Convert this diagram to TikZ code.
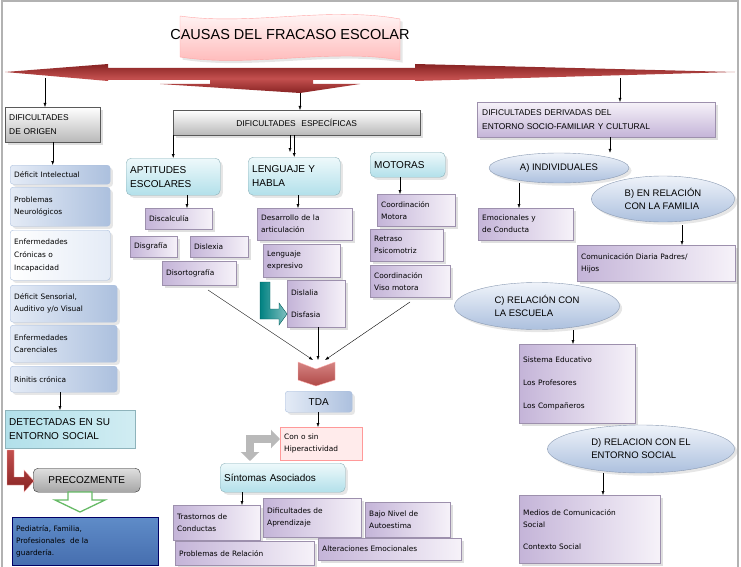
\documentclass[tikz,border=0pt]{standalone}
\usepackage{fontspec}
\setmainfont{Liberation Sans}
\newfontfamily\smallface{DejaVu Sans}
\usetikzlibrary{positioning,shapes.geometric,shadows,arrows.meta}
\definecolor{purL}{RGB}{196,180,216}
\definecolor{purR}{RGB}{246,242,249}
\definecolor{bgL}{RGB}{228,235,246}
\definecolor{bgR}{RGB}{172,192,222}
\definecolor{cyT}{RGB}{238,249,251}
\definecolor{cyB}{RGB}{178,224,234}
\definecolor{arD}{RGB}{135,35,35}
\definecolor{arM}{RGB}{195,80,78}
\tikzset{
  every node/.style={font=\smallface\fontsize{7.4}{12}\selectfont, align=left, anchor=north west, inner xsep=4pt},
  arr/.style={-{Latex[length=4pt,width=3pt]}, black},
  hdr/.style={draw=gray!70!black, top color=white, bottom color=gray!55, font=\fontsize{8.4}{14}\selectfont, drop shadow={opacity=.25}},
  bbox/.style={draw=bgR, rounded corners=3pt, left color=bgL, right color=bgR, drop shadow={opacity=.2}},
  cbox/.style={draw=cyB!80!black, rounded corners=5pt, top color=cyT, bottom color=cyB, font=\fontsize{10}{14}\selectfont, drop shadow={opacity=.2}},
  pbox/.style={draw=purL!80!black, left color=purL, right color=purR, drop shadow={opacity=.25}},
  ell/.style={ellipse, anchor=center, draw=bgR!80!black, top color=bgL!60!white, bottom color=bgR, font=\fontsize{9.5}{13}\selectfont, drop shadow={opacity=.2}},
}
\begin{document}
\begin{tikzpicture}[x=1pt, y=-1pt]
    \useasboundingbox (0,0) rectangle (741,567);
    \draw[gray!60, line width=1.5pt] (2,567) -- (2,1) -- (738,1) -- (738,567);

    % Title banner
    \path[draw=red!35, top color=white, bottom color=red!30, drop shadow={opacity=.2}]
        (180,16) .. controls (250,26) and (330,6) .. (400,19) -- (400,60)
        .. controls (330,48) and (250,68) .. (180,57) -- cycle;
    \node[anchor=center, font=\fontsize{14.5}{16}\selectfont] (title) at (372,33) [anchor=center, xshift=-0pt] {};
    \node[anchor=center, font=\fontsize{14.5}{16}\selectfont] (title) at (290,35) {CAUSAS DEL FRACASO ESCOLAR};

    % Big red arrow
    \path[top color=arD, bottom color=arD, middle color=arM]
        (5,72) -- (108,64) -- (108,68) -- (415,68) -- (415,64) -- (735,72) -- (415,81) -- (415,80)
        -- (313,80) -- (313,84) -- (360,84) -- (300,93) -- (160,84) -- (210,84) -- (210,80)
        -- (108,80) -- (108,81) -- cycle;
    \coordinate (bl) at (45,78);
    \coordinate (bm) at (300,93);
    \coordinate (br) at (620,78);

    % Main branches
    \node[hdr, minimum width=95pt, minimum height=35pt, text width=87pt] (dorig) at (5,107) {DIFICULTADES\\DE ORIGEN};
    \node[hdr, minimum width=247pt, minimum height=25pt, text width=239pt, align=center] (desp) at (173,110) {DIFICULTADES\ \ ESPEC\'IFICAS};
    \node[hdr, draw=purL!80!black, top color=purR, bottom color=purL, minimum width=238pt, minimum height=35pt, text width=228pt, inner xsep=5pt] (dder) at (477,102) {DIFICULTADES DERIVADAS DEL\\ENTORNO SOCIO-FAMILIAR Y CULTURAL};
    \draw[arr] (bl) -- (bl |- dorig.north);
    \draw[arr] (bm) -- (bm |- desp.north);
    \draw[arr] (br) -- (br |- dder.north);

    % Origen column
    \node[bbox, minimum width=100pt, minimum height=19pt, text width=92pt] (defint) at (10,165) {D\'eficit Intelectual};
    \node[bbox, minimum width=100pt, minimum height=39pt, text width=92pt] (neuro) at (10,187) {Problemas\\Neurol\'ogicos};
    \node[bbox, left color=white, right color=bgL, minimum width=100pt, minimum height=50pt, text width=92pt, font=\smallface\fontsize{7.4}{13}\selectfont] (cronic) at (10,230) {Enfermedades\\Cr\'onicas o\\Incapacidad};
    \node[bbox, minimum width=107pt, minimum height=37pt, text width=99pt] (sens) at (10,285) {D\'eficit Sensorial,\\Auditivo y/o Visual};
    \node[bbox, minimum width=107pt, minimum height=37pt, text width=99pt] (caren) at (10,325) {Enfermedades\\Carenciales};
    \node[bbox, minimum width=107pt, minimum height=26pt, text width=99pt] (rinit) at (10,366) {Rinitis cr\'onica};
    \draw[arr] (dorig.south) -- (dorig.south |- defint.north);
    \node[draw=cyB!80!black, left color=cyB, right color=cyB!60!white, minimum width=130pt, minimum height=38pt, text width=122pt, font=\fontsize{10}{14}\selectfont] (detect) at (5,410) {DETECTADAS EN SU\\ENTORNO SOCIAL};
    \draw[arr] (rinit.south -| 60,0) -- (detect.north -| 60,0);
    \node[draw=gray!40!black, rounded corners=5pt, top color=gray!25, bottom color=gray!70, minimum width=107pt, minimum height=24pt, text width=99pt, align=center, font=\fontsize{10}{12}\selectfont] (precoz) at (33,468) {PRECOZMENTE};
    \node[draw=blue!40!black, top color={rgb,255:red,95;green,140;blue,200}, bottom color={rgb,255:red,70;green,110;blue,175}, minimum width=146pt, minimum height=48pt, text width=138pt] (pedia) at (12,517) {Pediatr\'ia, Familia,\\Profesionales\ \ de la\\guarder\'ia.};
    \path[top color=arM, bottom color=arD, draw=red!30]
        (7,450) -- (14,450) -- (14,477) -- (24,477) -- (24,470) -- (34,481) -- (24,492) -- (24,485) -- (7,485) -- cycle;
    \path[draw=green!55!black!60, line width=1.3pt, fill=white]
        (68,492) -- (92,492) -- (92,500) -- (105,500) -- (80,512) -- (55,500) -- (68,500) -- cycle;

    % Especificas
    \node[cbox, minimum width=94pt, minimum height=37pt, text width=86pt] (aptit) at (126,158) {APTITUDES\\ESCOLARES};
    \node[cbox, minimum width=92pt, minimum height=38pt, text width=84pt] (lengu) at (248,157) {LENGUAJE Y\\HABLA};
    \node[cbox, minimum width=75pt, minimum height=25pt, text width=67pt] (motor) at (370,152) {MOTORAS};
    \draw[arr] (desp.south -| aptit.north) -- (aptit.north);
    \draw[arr] (desp.south -| lengu.north) -- (lengu.north);
    \draw[arr] (desp.south -| 290,0) -- (motor.north -| 290,0);

    \node[pbox, minimum width=67pt, minimum height=21pt, text width=59pt] (discal) at (145,208) {Discalcul\'ia};
    \node[pbox, minimum width=47pt, minimum height=21pt, text width=39pt] (disgra) at (130,236) {Disgraf\'ia};
    \node[pbox, minimum width=58pt, minimum height=21pt, text width=50pt] (dislex) at (190,236) {Dislexia};
    \node[pbox, minimum width=74pt, minimum height=24pt, text width=66pt] (disort) at (162,261) {Disortograf\'ia};
    \draw[arr] (aptit.south -| 187,0) -- (discal.north -| 187,0);

    \node[pbox, minimum width=95pt, minimum height=32pt, text width=87pt] (desarr) at (257,208) {Desarrollo de la\\articulaci\'on};
    \node[pbox, minimum width=77pt, minimum height=33pt, text width=69pt] (lexpr) at (263,244) {Lenguaje\\expresivo};
    \node[pbox, minimum width=58pt, minimum height=47pt, text width=50pt, font=\smallface\fontsize{7.4}{22}\selectfont] (dislal) at (287,280) {Dislalia\\Disfasia};
    \draw[arr] (lengu.south -| 298,0) -- (desarr.north -| 298,0);
    \path[draw=teal!70!black, left color=teal!55!cyan!70!black, right color=teal!50]
        (260,282) -- (270,282) -- (270,309) -- (279,309) -- (279,303) -- (287,314) -- (279,325) -- (279,319) -- (260,319) -- cycle;

    \node[pbox, minimum width=78pt, minimum height=32pt, text width=70pt] (cmotor) at (377,194) {Coordinaci\'on\\Motora};
    \node[pbox, minimum width=73pt, minimum height=32pt, text width=65pt] (retraso) at (370,229) {Retraso\\Psicomotriz};
    \node[pbox, minimum width=80pt, minimum height=32pt, text width=72pt] (cviso) at (370,265) {Coordinaci\'on\\Viso motora};
    \draw[arr] (motor.south -| 400,0) -- (cmotor.north -| 400,0);

    % Convergence
    \path[top color=arM!70!white, bottom color=arM!90!black, draw=red!30]
        (298,362) -- (316,369) -- (335,362) -- (335,380) -- (316,386) -- (298,380) -- cycle;
    \coordinate (chl) at (313,360);
    \coordinate (chr) at (325,360);
    \draw[arr] (208,290) -- (chl);
    \draw[arr] (dislal.south -| 318,0) -- (chl -| 318,0);
    \draw[arr] (410,302) -- (chr);

    \node[bbox, minimum width=67pt, minimum height=21pt, text width=59pt, align=center, font=\fontsize{10}{12}\selectfont] (tda) at (285,391) {TDA};
    \node[draw=red!40, fill=red!8, minimum width=82pt, minimum height=33pt, text width=74pt] (hiper) at (280,427) {Con o sin\\Hiperactividad};
    \draw[arr] (tda.south -| 318,0) -- (hiper.north -| 318,0);
    \node[cbox, minimum width=125pt, minimum height=29pt, text width=117pt] (sinto) at (220,463) {S\'intomas Asociados};
    \draw[line width=8pt, gray!55, {Triangle[length=9pt,width=18pt]}-{Triangle[length=9pt,width=18pt]}]
        (sinto.north west) ++(30,-2) -- ++(0,-22) -- ++(22,0) -- (hiper.west |- 0,439);

    \node[pbox, minimum width=87pt, minimum height=35pt, text width=79pt] (trast) at (173,505) {Trastornos de\\Conductas};
    \node[pbox, minimum width=98pt, minimum height=39pt, text width=90pt] (aprend) at (263,498) {Dificultades de\\Aprendizaje};
    \node[pbox, minimum width=85pt, minimum height=35pt, text width=77pt] (autoes) at (365,502) {Bajo Nivel de\\Autoestima};
    \node[pbox, minimum width=139pt, minimum height=24pt, text width=131pt] (relac) at (175,541) {Problemas de Relaci\'on};
    \node[pbox, minimum width=143pt, minimum height=22pt, text width=135pt] (alter) at (318,538) {Alteraciones Emocionales};
    \draw[arr] (sinto.south -| 242,0) -- (trast.north -| 242,0);

    % Derivadas
    \node[ell, minimum width=140pt, minimum height=30pt, align=center] (indiv) at (559,168) {A) INDIVIDUALES};
    \node[ell, minimum width=143pt, minimum height=46pt] (famil) at (663,199) {B) EN RELACI\'ON\\CON LA FAMILIA};
    \draw[arr] (dder.south -| 610,0) -- (indiv.north -| 610,0);
    \node[pbox, minimum width=95pt, minimum height=32pt, text width=87pt] (emoc) at (478,208) {Emocionales y\\de Conducta};
    \draw[arr] (519,183) -- (emoc.north -| 519,0);
    \node[pbox, minimum width=158pt, minimum height=36pt, text width=150pt] (comun) at (577,245) {Comunicaci\'on Diaria Padres/\\Hijos};
    \draw[arr] (famil.south -| 682,0) ++(0,3) -- (comun.north -| 682,0);
    \node[ell, minimum width=165pt, minimum height=47pt] (escue) at (537,306) {C) RELACI\'ON CON\\LA ESCUELA};
    \node[pbox, minimum width=116pt, minimum height=79pt, text width=108pt, font=\smallface\fontsize{7.4}{23}\selectfont] (sistem) at (519,344) {Sistema Educativo\\Los Profesores\\Los Compa\~neros};
    \draw[arr] (573,330) -- (sistem.north -| 573,0);
    \node[ell, minimum width=187pt, minimum height=48pt] (entor) at (641,449) {D) RELACION CON EL\\ENTORNO SOCIAL};
    \node[pbox, minimum width=141pt, minimum height=68pt, text width=133pt] (medios) at (519,495) {Medios de Comunicaci\'on\\Social\\[10pt]Contexto Social};
    \draw[arr] (entor.south -| 603,0) -- (medios.north -| 603,0);
\end{tikzpicture}
\end{document}
